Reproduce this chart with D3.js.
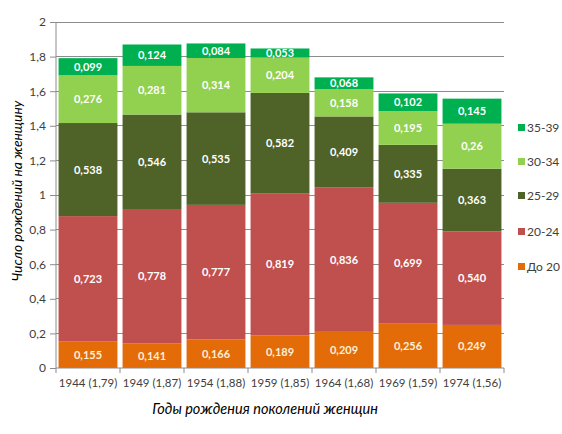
<!DOCTYPE html>
<html><head><meta charset="utf-8">
<script src="https://cdn.jsdelivr.net/npm/d3@7"></script>
<style>
body{margin:0;background:#fff;}
svg text{font-family:Lato,"Open Sans",sans-serif;}
</style></head>
<body><svg id="c" width="562" height="434"></svg>
<script>
const categories = ["1944 (1,79)","1949 (1,87)","1954 (1,88)","1959 (1,85)","1964 (1,68)","1969 (1,59)","1974 (1,56)"];
const seriesNames = ["До 20","20-24","25-29","30-34","35-39"];
const seriesColors = ["#e36c09","#c0504d","#4f6228","#92d050","#00b050"];
const under20 = [0.155,0.141,0.166,0.189,0.209,0.256,0.249];
const age20_24 = [0.723,0.778,0.777,0.819,0.836,0.699,0.540];
const age25_29 = [0.538,0.546,0.535,0.582,0.409,0.335,0.363];
const age30_34 = [0.276,0.281,0.314,0.204,0.158,0.195,0.26];
const age35_39 = [0.099,0.124,0.084,0.053,0.068,0.102,0.145];
const labels = [
  ["0,155","0,141","0,166","0,189","0,209","0,256","0,249"],
  ["0,723","0,778","0,777","0,819","0,836","0,699","0,540"],
  ["0,538","0,546","0,535","0,582","0,409","0,335","0,363"],
  ["0,276","0,281","0,314","0,204","0,158","0,195","0,26"],
  ["0,099","0,124","0,084","0,053","0,068","0,102","0,145"]
];
const yTicks = [0,0.2,0.4,0.6,0.8,1,1.2,1.4,1.6,1.8,2];
const yTitle = "Число рождений на женщину";
const xTitle = "Годы рождения поколений женщин";

const series = [under20,age20_24,age25_29,age30_34,age35_39];
const rows = categories.map((c,i)=>{const r={cat:c}; seriesNames.forEach((s,k)=>r[s]=series[k][i]); return r;});
const stacked = d3.stack().keys(seriesNames)(rows);

const svg = d3.select("#c");
const pL=56,pR=504,pT=22,pB=368;
const x = d3.scaleBand().domain(categories).range([pL,pR]).paddingInner(0.08).paddingOuter(0.04);
const y = d3.scaleLinear().domain([0,2]).range([pB,pT]);
const fmt = v => String(v).replace(".",",");

// gridlines
svg.append("g").selectAll("line").data(yTicks.filter(t=>t>0)).join("line")
  .attr("x1",pL).attr("x2",pR).attr("y1",d=>y(d)).attr("y2",d=>y(d))
  .attr("stroke","#8c8c8c").attr("stroke-width",1).attr("shape-rendering","crispEdges");

// bars
const g = svg.append("g");
stacked.forEach((layer,k)=>{
  g.append("g").selectAll("rect").data(layer).join("rect")
    .attr("x",d=>x(d.data.cat)).attr("width",x.bandwidth())
    .attr("y",d=>y(d[1])).attr("height",d=>y(d[0])-y(d[1]))
    .attr("fill",seriesColors[k]);
  g.append("g").selectAll("text").data(layer).join("text")
    .attr("x",d=>x(d.data.cat)+x.bandwidth()/2)
    .attr("y",d=>(y(d[0])+y(d[1]))/2+4)
    .attr("text-anchor","middle").attr("font-size",11).attr("font-weight","bold")
    .attr("fill",k===0?"#fdf0d8":"#ffffff")
    .text((d,i)=>labels[k][i]);
});

// y axis
const ya = svg.append("g").attr("transform",`translate(${pL},0)`)
  .call(d3.axisLeft(y).tickValues(yTicks).tickSize(6).tickPadding(4).tickFormat(fmt));
ya.select(".domain").attr("stroke","#8c8c8c").attr("d",`M0,${pT}V${pB}`);
ya.selectAll(".tick line").attr("stroke","#8c8c8c");
ya.selectAll(".tick text").attr("font-size",12).attr("fill","#404040").attr("font-family","Lato,sans-serif");

// x axis
const xa = svg.append("g").attr("transform",`translate(0,${pB})`)
  .call(d3.axisBottom(x).tickSize(0).tickPadding(11));
xa.select(".domain").attr("stroke","#8c8c8c").attr("d",`M${pL},0H${pR}`);
xa.selectAll(".tick text").attr("font-size",11.5).attr("fill","#404040").attr("font-family","Lato,sans-serif");
const bounds = categories.map(c=>x(c)-x.step()*x.paddingInner()/2).concat([pR]);
xa.append("g").selectAll("line").data([pL].concat(bounds.slice(1))).join("line")
  .attr("x1",d=>d).attr("x2",d=>d).attr("y1",0).attr("y2",5).attr("stroke","#8c8c8c");

// titles
svg.append("text").attr("transform","translate(22,191) rotate(-90)")
  .attr("text-anchor","middle").attr("font-size",13.8).attr("font-style","italic").attr("fill","#000").text(yTitle);
svg.append("text").attr("x",265).attr("y",414)
  .attr("text-anchor","middle").attr("font-size",14.5).attr("font-style","italic").attr("fill","#000").text(xTitle);

// legend
const legY = [267,232,196,162,128];
const lg = svg.append("g");
seriesNames.forEach((s,k)=>{
  lg.append("rect").attr("x",518).attr("y",legY[k]-4).attr("width",7).attr("height",7).attr("fill",seriesColors[k]);
  lg.append("text").attr("x",527).attr("y",legY[k]+4).attr("font-size",12).attr("fill","#404040").text(s);
});
</script></body></html>
